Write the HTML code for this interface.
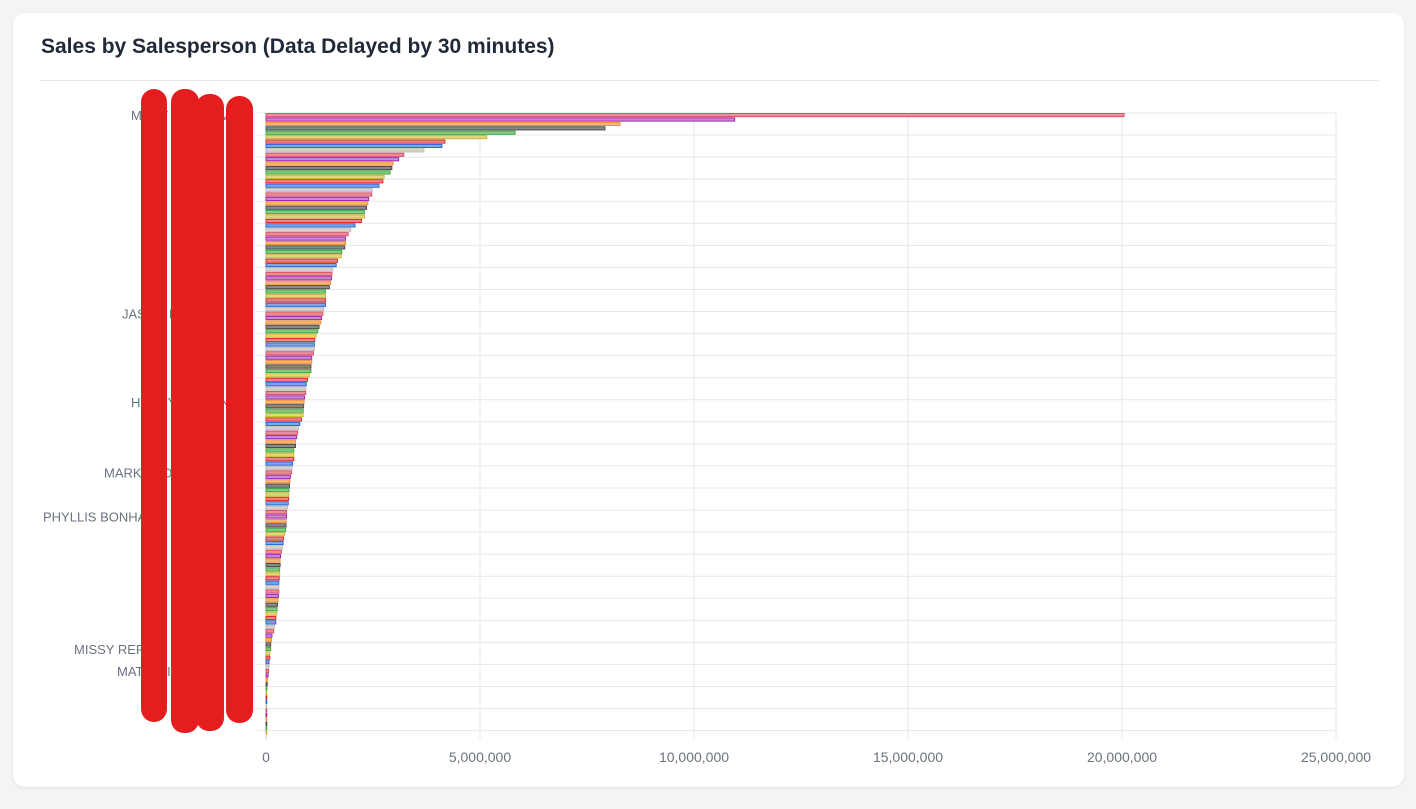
<!DOCTYPE html>
<html><head><meta charset="utf-8"><style>
body{margin:0;background:#f3f4f6;width:1416px;height:809px;overflow:hidden;font-family:"Liberation Sans",sans-serif}
.card{position:absolute;left:13px;top:13px;width:1391px;height:774px;background:#fff;border-radius:12px;box-shadow:0 1px 3px rgba(0,0,0,.08)}
h1{position:absolute;left:28px;top:22px;margin:0;font-size:21px;font-weight:bold;color:#1f2937}
.div{position:absolute;left:27px;top:67px;width:1339px;height:1px;background:#e5e7eb}
</style></head><body>
<div class="card">
<h1>Sales by Salesperson (Data Delayed by 30 minutes)</h1>
<div class="div"></div>
</div>
<svg id="chart" width="1416" height="809" style="position:absolute;left:0;top:0"></svg>
<script>
const valuesM=[20.05,10.95,8.27,7.92,5.82,5.16,4.18,4.11,3.69,3.22,3.10,2.97,2.94,2.90,2.76,2.73,2.64,2.48,2.47,2.40,2.38,2.35,2.30,2.30,2.23,2.08,1.98,1.92,1.86,1.86,1.84,1.77,1.76,
1.67,1.64,1.56,1.54,1.53,1.51,1.48,1.39,1.39,1.39,1.39,1.35,1.33,1.30,1.28,1.24,1.21,1.17,1.14,1.13,1.13,1.11,1.07,1.07,1.05,1.05,1.01,0.97,0.94,0.93,0.93,0.90,0.89,0.88,0.87,0.87,0.83,0.79,0.76,0.74,0.72,0.69,0.69,0.65,0.65,0.65,0.62,0.61,0.60,0.57,0.56,0.55,
0.54,0.53,0.53,0.52,0.50,0.48,0.48,0.47,0.47,0.46,0.44,0.41,0.40,0.39,0.36,0.34,0.33,0.33,0.32,0.32,0.31,0.30,0.30,0.30,0.29,0.28,0.27,0.26,0.25,0.23,0.23,0.20,0.18,0.14,0.13,0.11,0.11,0.09,0.09,0.07,0.07,0.06,0.05,0.04,0.03,0.02,0.02,0.02,0.01,0.008,0.006,0.005,0.004,0.003,0.002,0.001];
const xTicks=[0,5000000,10000000,15000000,20000000,25000000];
const xTickLabels=["0","5,000,000","10,000,000","15,000,000","20,000,000","25,000,000"];
const labelIdx=[0,45,65,81,91,121,126];
const labelText=["MARY ANNE SMITH","JASON MILLER","HENRY BROWN","MARK THOMPSON","PHYLLIS BONHAM","MISSY RERICK","MATT WILSON"];
const labelX=[131,122,131,104,43,74,117];
const fills=["#e8909c","#c58ad8","#f5b67a","#8a8a8a","#86c986","#e2d580","#e48a8a","#7fa6e6","#d6d3d0"];
const strokes=["#d9485f","#9c1fa6","#f08a2c","#444","#3aa53a","#c9b52c","#d22","#1f5fd6","#bdb8b4"];
const svg=document.getElementById('chart');const NS="http://www.w3.org/2000/svg";
const X0=266,X1=1336,Y0=113,Y1=735,XMAX=25000000;
const xs=v=>X0+v/XMAX*(X1-X0);
const n=valuesM.length,band=(Y1-Y0)/n;
function mk(t,a){const e=document.createElementNS(NS,t);for(const k in a)e.setAttribute(k,a[k]);svg.appendChild(e);return e;}
for(let i=0;i<=n;i+=5){const y=Y0+i*band;const l=mk('line',{x1:257,x2:X1,y1:y,y2:y,stroke:'#e5e7eb','stroke-width':1});

}
xTicks.forEach((t,i)=>{const x=xs(t);const l=mk('line',{x1:x,x2:x,y1:Y0,y2:Y1+5,stroke:i==0?'#cfd2d6':'#e5e7eb','stroke-width':1});


const tx=mk('text',{x:x,y:762,'text-anchor':'middle','font-size':14,fill:'#6b7280','font-family':'Liberation Sans, sans-serif'});tx.textContent=xTickLabels[i];

});
valuesM.forEach((v,i)=>{const y=Y0+i*band+0.5;const w=Math.max(xs(v*1e6)-X0,0.8);
const r=mk('rect',{x:X0,y:y,width:w,height:band-1.2,fill:fills[i%9],stroke:strokes[i%9],'stroke-width':0.9});

});
labelIdx.forEach((idx,k)=>{const t=mk('text',{x:labelX[k],y:Y0+idx*band+band/2+5,'font-size':13,fill:'#6b7280','font-family':'Liberation Sans, sans-serif'});t.textContent=labelText[k];

});
[[141,89,26,633],[171,89,28,644],[196,94,28,637],[226,96,27,627]].forEach(b=>{const r=mk('rect',{x:b[0],y:b[1],width:b[2],height:b[3],rx:13,fill:'#e41e1e'});

});
</script>
</body></html>
